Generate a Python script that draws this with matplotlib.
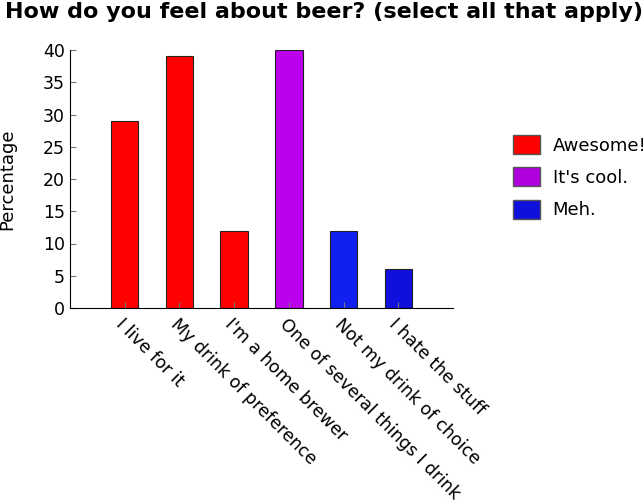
import numpy as np
import matplotlib.pyplot as plt
from matplotlib.patches import Patch

categories = ["I live for it", "My drink of preference", "I'm a home brewer",
              "One of several things I drink", "Not my drink of choice",
              "I hate the stuff"]
values = [29, 39, 12, 40, 12, 6]
bar_colors = ["#ff0000", "#ff0000", "#ff0000", "#bb00ee", "#1020ee", "#1010dd"]
legend_labels = ["Awesome!", "It's cool.", "Meh."]
legend_colors = ["#ff0000", "#b000dd", "#1010dd"]

fig = plt.figure(figsize=(6.44, 5.03), dpi=100)
ax = fig.add_axes([70 / 644, 1 - 308 / 503, 383 / 644, 258 / 503])

x = np.arange(len(categories))
ax.bar(x, values, width=0.5, color=bar_colors, edgecolor="#222222", linewidth=0.8)

ax.set_xlim(-1, 6)
ax.set_ylim(0, 40)
ax.set_yticks(range(0, 41, 5))
ax.set_xticks(x)
ax.set_xticklabels(categories, rotation=-45, ha="left", va="top",
                   rotation_mode="anchor", fontsize=12.5)
ax.tick_params(axis="y", labelsize=12.5, direction="in", length=4, color="#777777")
ax.tick_params(axis="x", direction="in", length=4, color="#777777", pad=5)
ax.spines["top"].set_visible(False)
ax.spines["right"].set_visible(False)
ax.set_ylabel("Percentage", fontsize=13, labelpad=19)

handles = [Patch(facecolor=c, edgecolor="#555555") for c in legend_colors]
fig.legend(handles, legend_labels, loc="upper left", bbox_to_anchor=(513 / 644, 1 - 135 / 503),
           frameon=False, fontsize=13, handlelength=1.5, handleheight=1.25,
           labelspacing=0.7, handletextpad=0.7, borderpad=0, borderaxespad=0)

fig.text(5 / 644, 1 - 2 / 503, "How do you feel about beer? (select all that apply)",
         fontsize=16, fontweight="bold", ha="left", va="top")

fig.savefig("out.png", dpi=100)
